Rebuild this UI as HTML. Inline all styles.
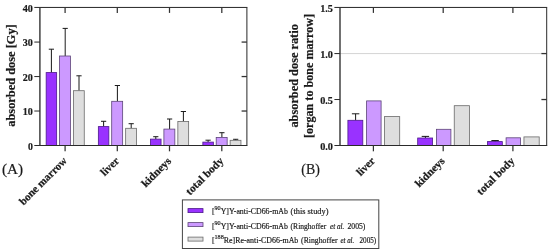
<!DOCTYPE html><html><head><meta charset="utf-8"><style>html,body{margin:0;padding:0;background:#fff}svg{display:block}text{font-family:"Liberation Serif", serif;fill:#1a1a1a}.b{font-weight:bold;stroke:#1a1a1a;stroke-width:0.2px}</style></head><body>
<svg width="550" height="252" viewBox="0 0 550 252">
<defs><filter id="sf" x="0" y="0" width="550" height="252" filterUnits="userSpaceOnUse"><feGaussianBlur stdDeviation="0.3"/></filter></defs>
<rect width="550" height="252" fill="#fff"/>
<g filter="url(#sf)">
<line x1="51.40" y1="72.60" x2="51.40" y2="49.20" stroke="#1a1a1a" stroke-width="1.0"/>
<line x1="48.80" y1="49.20" x2="54.00" y2="49.20" stroke="#1a1a1a" stroke-width="1.0"/>
<rect x="46.15" y="72.60" width="10.50" height="72.90" fill="#9933ff" stroke="#4c1a8c" stroke-width="0.8"/>
<line x1="65.20" y1="56.00" x2="65.20" y2="28.40" stroke="#1a1a1a" stroke-width="1.0"/>
<line x1="62.60" y1="28.40" x2="67.80" y2="28.40" stroke="#1a1a1a" stroke-width="1.0"/>
<rect x="59.50" y="56.00" width="10.95" height="89.50" fill="#cc99ff" stroke="#5c4478" stroke-width="0.8"/>
<line x1="79.00" y1="90.70" x2="79.00" y2="75.80" stroke="#1a1a1a" stroke-width="1.0"/>
<line x1="76.40" y1="75.80" x2="81.60" y2="75.80" stroke="#1a1a1a" stroke-width="1.0"/>
<rect x="73.45" y="90.70" width="10.80" height="54.80" fill="#dedede" stroke="#6a6a6a" stroke-width="0.8"/>
<line x1="103.60" y1="126.60" x2="103.60" y2="121.30" stroke="#1a1a1a" stroke-width="1.0"/>
<line x1="101.00" y1="121.30" x2="106.20" y2="121.30" stroke="#1a1a1a" stroke-width="1.0"/>
<rect x="98.35" y="126.60" width="10.50" height="18.90" fill="#9933ff" stroke="#4c1a8c" stroke-width="0.8"/>
<line x1="117.40" y1="101.30" x2="117.40" y2="85.50" stroke="#1a1a1a" stroke-width="1.0"/>
<line x1="114.80" y1="85.50" x2="120.00" y2="85.50" stroke="#1a1a1a" stroke-width="1.0"/>
<rect x="111.70" y="101.30" width="10.95" height="44.20" fill="#cc99ff" stroke="#5c4478" stroke-width="0.8"/>
<line x1="131.20" y1="128.30" x2="131.20" y2="123.70" stroke="#1a1a1a" stroke-width="1.0"/>
<line x1="128.60" y1="123.70" x2="133.80" y2="123.70" stroke="#1a1a1a" stroke-width="1.0"/>
<rect x="125.65" y="128.30" width="10.80" height="17.20" fill="#dedede" stroke="#6a6a6a" stroke-width="0.8"/>
<line x1="155.80" y1="139.10" x2="155.80" y2="136.70" stroke="#1a1a1a" stroke-width="1.0"/>
<line x1="153.20" y1="136.70" x2="158.40" y2="136.70" stroke="#1a1a1a" stroke-width="1.0"/>
<rect x="150.55" y="139.10" width="10.50" height="6.40" fill="#9933ff" stroke="#4c1a8c" stroke-width="0.8"/>
<line x1="169.60" y1="129.10" x2="169.60" y2="119.00" stroke="#1a1a1a" stroke-width="1.0"/>
<line x1="167.00" y1="119.00" x2="172.20" y2="119.00" stroke="#1a1a1a" stroke-width="1.0"/>
<rect x="163.90" y="129.10" width="10.95" height="16.40" fill="#cc99ff" stroke="#5c4478" stroke-width="0.8"/>
<line x1="183.40" y1="121.50" x2="183.40" y2="111.50" stroke="#1a1a1a" stroke-width="1.0"/>
<line x1="180.80" y1="111.50" x2="186.00" y2="111.50" stroke="#1a1a1a" stroke-width="1.0"/>
<rect x="177.85" y="121.50" width="10.80" height="24.00" fill="#dedede" stroke="#6a6a6a" stroke-width="0.8"/>
<line x1="208.10" y1="142.10" x2="208.10" y2="140.20" stroke="#1a1a1a" stroke-width="1.0"/>
<line x1="205.50" y1="140.20" x2="210.70" y2="140.20" stroke="#1a1a1a" stroke-width="1.0"/>
<rect x="202.85" y="142.10" width="10.50" height="3.40" fill="#9933ff" stroke="#4c1a8c" stroke-width="0.8"/>
<line x1="221.90" y1="137.40" x2="221.90" y2="132.70" stroke="#1a1a1a" stroke-width="1.0"/>
<line x1="219.30" y1="132.70" x2="224.50" y2="132.70" stroke="#1a1a1a" stroke-width="1.0"/>
<rect x="216.20" y="137.40" width="10.95" height="8.10" fill="#cc99ff" stroke="#5c4478" stroke-width="0.8"/>
<line x1="235.70" y1="140.30" x2="235.70" y2="139.30" stroke="#1a1a1a" stroke-width="1.0"/>
<line x1="233.10" y1="139.30" x2="238.30" y2="139.30" stroke="#1a1a1a" stroke-width="1.0"/>
<rect x="230.15" y="140.30" width="10.80" height="5.20" fill="#dedede" stroke="#6a6a6a" stroke-width="0.8"/>
<line x1="34.30" y1="145.50" x2="247.40" y2="145.50" stroke="#2a2a2a" stroke-width="1.1"/>
<line x1="34.30" y1="7.45" x2="247.40" y2="7.45" stroke="#2a2a2a" stroke-width="1.0"/>
<line x1="39.90" y1="7.60" x2="39.90" y2="145.50" stroke="#333" stroke-width="1.4"/>
<line x1="246.90" y1="7.60" x2="246.90" y2="145.50" stroke="#2a2a2a" stroke-width="1.0"/>
<line x1="65.10" y1="145.50" x2="65.10" y2="151.30" stroke="#333" stroke-width="1.25"/>
<line x1="65.10" y1="7.60" x2="65.10" y2="12.90" stroke="#333" stroke-width="1.25"/>
<line x1="117.30" y1="145.50" x2="117.30" y2="151.30" stroke="#333" stroke-width="1.25"/>
<line x1="117.30" y1="7.60" x2="117.30" y2="12.90" stroke="#333" stroke-width="1.25"/>
<line x1="169.50" y1="145.50" x2="169.50" y2="151.30" stroke="#333" stroke-width="1.25"/>
<line x1="169.50" y1="7.60" x2="169.50" y2="12.90" stroke="#333" stroke-width="1.25"/>
<line x1="221.80" y1="145.50" x2="221.80" y2="151.30" stroke="#333" stroke-width="1.25"/>
<line x1="221.80" y1="7.60" x2="221.80" y2="12.90" stroke="#333" stroke-width="1.25"/>
<text x="32.9" y="149.80" text-anchor="end" class="b" font-size="10.8" textLength="4.9" lengthAdjust="spacingAndGlyphs">0</text>
<line x1="34.30" y1="111.03" x2="39.90" y2="111.03" stroke="#2a2a2a" stroke-width="1.0"/>
<line x1="241.60" y1="111.03" x2="246.90" y2="111.03" stroke="#333" stroke-width="1.3"/>
<text x="32.9" y="115.33" text-anchor="end" class="b" font-size="10.8" textLength="10.1" lengthAdjust="spacingAndGlyphs">10</text>
<line x1="34.30" y1="76.55" x2="39.90" y2="76.55" stroke="#2a2a2a" stroke-width="1.0"/>
<line x1="241.60" y1="76.55" x2="246.90" y2="76.55" stroke="#333" stroke-width="1.3"/>
<text x="32.9" y="80.85" text-anchor="end" class="b" font-size="10.8" textLength="10.1" lengthAdjust="spacingAndGlyphs">20</text>
<line x1="34.30" y1="42.07" x2="39.90" y2="42.07" stroke="#2a2a2a" stroke-width="1.0"/>
<line x1="241.60" y1="42.07" x2="246.90" y2="42.07" stroke="#333" stroke-width="1.3"/>
<text x="32.9" y="46.37" text-anchor="end" class="b" font-size="10.8" textLength="10.1" lengthAdjust="spacingAndGlyphs">30</text>
<text x="32.9" y="11.90" text-anchor="end" class="b" font-size="10.8" textLength="10.1" lengthAdjust="spacingAndGlyphs">40</text>
<line x1="340.00" y1="53.57" x2="546.70" y2="53.57" stroke="#cfcfcf" stroke-width="0.9"/>
<line x1="355.60" y1="120.30" x2="355.60" y2="113.80" stroke="#1a1a1a" stroke-width="1.0"/>
<line x1="351.90" y1="113.80" x2="359.30" y2="113.80" stroke="#1a1a1a" stroke-width="1.0"/>
<rect x="347.90" y="120.30" width="14.90" height="25.20" fill="#9933ff" stroke="#4c1a8c" stroke-width="0.8"/>
<rect x="366.60" y="100.90" width="14.50" height="44.60" fill="#cc99ff" stroke="#5c4478" stroke-width="0.8"/>
<rect x="384.45" y="116.60" width="15.25" height="28.90" fill="#dedede" stroke="#6a6a6a" stroke-width="0.8"/>
<line x1="425.40" y1="138.00" x2="425.40" y2="136.40" stroke="#1a1a1a" stroke-width="1.0"/>
<line x1="421.70" y1="136.40" x2="429.10" y2="136.40" stroke="#1a1a1a" stroke-width="1.0"/>
<rect x="417.70" y="138.00" width="14.90" height="7.50" fill="#9933ff" stroke="#4c1a8c" stroke-width="0.8"/>
<rect x="436.40" y="129.30" width="14.50" height="16.20" fill="#cc99ff" stroke="#5c4478" stroke-width="0.8"/>
<rect x="454.25" y="105.70" width="15.25" height="39.80" fill="#dedede" stroke="#6a6a6a" stroke-width="0.8"/>
<line x1="495.10" y1="141.60" x2="495.10" y2="140.50" stroke="#1a1a1a" stroke-width="1.0"/>
<line x1="491.40" y1="140.50" x2="498.80" y2="140.50" stroke="#1a1a1a" stroke-width="1.0"/>
<rect x="487.40" y="141.60" width="14.90" height="3.90" fill="#9933ff" stroke="#4c1a8c" stroke-width="0.8"/>
<rect x="506.10" y="137.80" width="14.50" height="7.70" fill="#cc99ff" stroke="#5c4478" stroke-width="0.8"/>
<rect x="523.95" y="136.90" width="15.25" height="8.60" fill="#dedede" stroke="#6a6a6a" stroke-width="0.8"/>
<line x1="334.40" y1="145.50" x2="547.20" y2="145.50" stroke="#2a2a2a" stroke-width="1.1"/>
<line x1="334.40" y1="7.45" x2="547.20" y2="7.45" stroke="#2a2a2a" stroke-width="1.0"/>
<line x1="340.00" y1="7.60" x2="340.00" y2="145.50" stroke="#333" stroke-width="1.4"/>
<line x1="546.70" y1="7.60" x2="546.70" y2="145.50" stroke="#2a2a2a" stroke-width="1.0"/>
<line x1="373.40" y1="145.50" x2="373.40" y2="151.30" stroke="#333" stroke-width="1.25"/>
<line x1="373.40" y1="7.60" x2="373.40" y2="12.90" stroke="#333" stroke-width="1.25"/>
<line x1="443.20" y1="145.50" x2="443.20" y2="151.30" stroke="#333" stroke-width="1.25"/>
<line x1="443.20" y1="7.60" x2="443.20" y2="12.90" stroke="#333" stroke-width="1.25"/>
<line x1="512.90" y1="145.50" x2="512.90" y2="151.30" stroke="#333" stroke-width="1.25"/>
<line x1="512.90" y1="7.60" x2="512.90" y2="12.90" stroke="#333" stroke-width="1.25"/>
<text x="333.0" y="149.80" text-anchor="end" class="b" font-size="10.8" textLength="12.8" lengthAdjust="spacingAndGlyphs">0.0</text>
<line x1="334.40" y1="99.53" x2="340.00" y2="99.53" stroke="#2a2a2a" stroke-width="1.0"/>
<line x1="541.40" y1="99.53" x2="546.70" y2="99.53" stroke="#333" stroke-width="1.3"/>
<text x="333.0" y="103.83" text-anchor="end" class="b" font-size="10.8" textLength="12.8" lengthAdjust="spacingAndGlyphs">0.5</text>
<line x1="334.40" y1="53.57" x2="340.00" y2="53.57" stroke="#2a2a2a" stroke-width="1.0"/>
<line x1="541.40" y1="53.57" x2="546.70" y2="53.57" stroke="#333" stroke-width="1.3"/>
<text x="333.0" y="57.87" text-anchor="end" class="b" font-size="10.8" textLength="12.8" lengthAdjust="spacingAndGlyphs">1.0</text>
<text x="333.0" y="11.90" text-anchor="end" class="b" font-size="10.8" textLength="12.8" lengthAdjust="spacingAndGlyphs">1.5</text>
<text transform="translate(15.0,75.5) rotate(-90)" text-anchor="middle" class="b" font-size="11.6" textLength="102.5" lengthAdjust="spacingAndGlyphs">absorbed dose [Gy]</text>
<text transform="translate(297.8,75.9) rotate(-90)" text-anchor="middle" class="b" font-size="11.6" textLength="103.4" lengthAdjust="spacingAndGlyphs">absorbed dose ratio</text>
<text transform="translate(312.9,76.0) rotate(-90)" text-anchor="middle" class="b" font-size="11.6" textLength="124" lengthAdjust="spacingAndGlyphs">[organ to bone marrow]</text>
<text transform="translate(67.6,161.5) rotate(-45)" text-anchor="end" class="b" font-size="11" textLength="62.5" lengthAdjust="spacingAndGlyphs">bone marrow</text>
<text transform="translate(119.8,161.5) rotate(-45)" text-anchor="end" class="b" font-size="11" textLength="21.2" lengthAdjust="spacingAndGlyphs">liver</text>
<text transform="translate(172,161.5) rotate(-45)" text-anchor="end" class="b" font-size="11" textLength="37.3" lengthAdjust="spacingAndGlyphs">kidneys</text>
<text transform="translate(224.2,161.5) rotate(-45)" text-anchor="end" class="b" font-size="11" textLength="48.4" lengthAdjust="spacingAndGlyphs">total body</text>
<text transform="translate(375.7,161.5) rotate(-45)" text-anchor="end" class="b" font-size="11" textLength="21.2" lengthAdjust="spacingAndGlyphs">liver</text>
<text transform="translate(445.5,161.5) rotate(-45)" text-anchor="end" class="b" font-size="11" textLength="37.3" lengthAdjust="spacingAndGlyphs">kidneys</text>
<text transform="translate(515.2,161.5) rotate(-45)" text-anchor="end" class="b" font-size="11" textLength="48.4" lengthAdjust="spacingAndGlyphs">total body</text>
<text x="1.9" y="174.1" font-size="15" stroke="#1a1a1a" stroke-width="0.2" textLength="21.1" lengthAdjust="spacingAndGlyphs">(A)</text>
<text x="301.3" y="174.1" font-size="15" stroke="#1a1a1a" stroke-width="0.2" textLength="18.5" lengthAdjust="spacingAndGlyphs">(B)</text>
<rect x="182.4" y="199.9" width="196.4" height="48.6" fill="#fff" stroke="#444" stroke-width="1"/>
<rect x="188" y="208.6" width="15" height="4" fill="#9933ff" stroke="#4c1a8c" stroke-width="0.8"/>
<rect x="188" y="222.6" width="15" height="4" fill="#cc99ff" stroke="#5c4478" stroke-width="0.8"/>
<rect x="188" y="237.1" width="15" height="4" fill="#dedede" stroke="#6a6a6a" stroke-width="0.8"/>
<text x="211.9" y="213.9" font-size="7.4" fill="#111" stroke="#111" stroke-width="0.15" lengthAdjust="spacingAndGlyphs" textLength="76.0" >[<tspan dy="-3.9" font-size="5.8">90</tspan><tspan dy="3.9">Y]Y-anti-CD66-mAb</tspan></text>
<text x="290.6" y="213.9" font-size="7.4" fill="#111" stroke="#111" stroke-width="0.15" lengthAdjust="spacingAndGlyphs" textLength="37.9" >(this study)</text>
<text x="211.9" y="229.0" font-size="7.4" fill="#111" stroke="#111" stroke-width="0.15" lengthAdjust="spacingAndGlyphs" textLength="76.0" >[<tspan dy="-3.9" font-size="5.8">90</tspan><tspan dy="3.9">Y]Y-anti-CD66-mAb</tspan></text>
<text x="290.6" y="229.0" font-size="7.4" fill="#111" stroke="#111" stroke-width="0.15" lengthAdjust="spacingAndGlyphs" textLength="35.6" >(Ringhoffer</text>
<text x="330.0" y="229.0" font-size="7.4" fill="#111" stroke="#111" stroke-width="0.15" lengthAdjust="spacingAndGlyphs" textLength="14.4" font-style="italic">et al.</text>
<text x="347.5" y="229.0" font-size="7.4" fill="#111" stroke="#111" stroke-width="0.15" lengthAdjust="spacingAndGlyphs" textLength="17.9" >2005)</text>
<text x="211.9" y="243.1" font-size="7.4" fill="#111" stroke="#111" stroke-width="0.15" lengthAdjust="spacingAndGlyphs" textLength="86.4" >[<tspan dy="-3.9" font-size="5.8">188</tspan><tspan dy="3.9">Re]Re-anti-CD66-mAb</tspan></text>
<text x="301.1" y="243.1" font-size="7.4" fill="#111" stroke="#111" stroke-width="0.15" lengthAdjust="spacingAndGlyphs" textLength="36.4" >(Ringhoffer</text>
<text x="340.4" y="243.1" font-size="7.4" fill="#111" stroke="#111" stroke-width="0.15" lengthAdjust="spacingAndGlyphs" textLength="13.9" font-style="italic">et al.</text>
<text x="359.5" y="243.1" font-size="7.4" fill="#111" stroke="#111" stroke-width="0.15" lengthAdjust="spacingAndGlyphs" textLength="16.7" >2005)</text>
</g></svg></body></html>
